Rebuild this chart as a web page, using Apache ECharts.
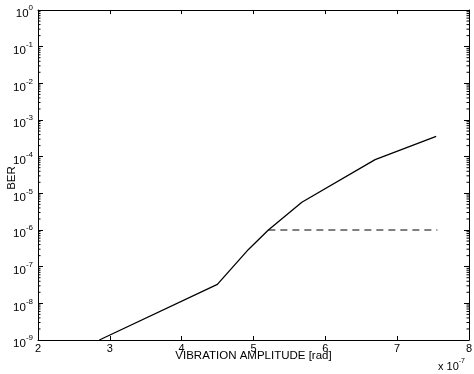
<!DOCTYPE html>
<html><head><meta charset="utf-8">
<script src="https://cdn.jsdelivr.net/npm/echarts@6/dist/echarts.min.js"></script>
<style>html,body{margin:0;padding:0;background:#fff}#c{width:474px;height:374px}</style>
</head><body><div id="c"></div>
<script>
// Data (x in units of 1e-7 rad)
const amplitude = [2.854, 4.497, 4.93, 5.207, 5.673, 6.693, 7.543];
const ber = [1e-9, 3.3e-8, 2.95e-7, 1e-6, 5.7e-6, 8.3e-5, 3.6e-4];
const limitX = [5.207, 7.56];
const limitBer = [1e-6, 1e-6];
const xTicks = [2, 3, 4, 5, 6, 7, 8];
const decades = [-9, -8, -7, -6, -5, -4, -3, -2, -1, 0];

const minorVals = [];
for (let d = -9; d < 0; d++) for (let k = 2; k <= 9; k++) minorVals.push(k * Math.pow(10, d));

const font = 'Liberation Sans, Arial, Helvetica, sans-serif';
const chart = echarts.init(document.getElementById('c'));
const axisLine = {show: true, lineStyle: {color: '#000', width: 1}};
chart.setOption({
  animation: false,
  grid: {left: 38, right: 5, top: 10, bottom: 34, containLabel: false, outerBoundsMode: 'none'},
  xAxis: [{
    type: 'value', min: 2, max: 8, interval: 1, position: 'bottom',
    axisLine: axisLine,
    axisTick: {show: true, inside: true, length: 4, lineStyle: {color: '#000'}},
    axisLabel: {color: '#000', fontSize: 11, fontFamily: font, margin: 3,
      formatter: v => xTicks.includes(v) ? String(v) : ''},
    splitLine: {show: false},
    name: 'VIBRATION AMPLITUDE [rad]', nameLocation: 'middle', nameGap: 10, nameMoveOverlap: false,
    nameTextStyle: {color: '#000', fontSize: 11.5, fontFamily: font, verticalAlign: 'top'}
  }, {
    type: 'value', min: 2, max: 8, interval: 1, position: 'top',
    axisLine: axisLine,
    axisTick: {show: true, inside: true, length: 4, lineStyle: {color: '#000'}},
    axisLabel: {show: false}, splitLine: {show: false}
  }],
  yAxis: [{
    type: 'log', logBase: 10, min: 1e-9, max: 1, position: 'left',
    axisLine: axisLine,
    axisTick: {show: true, inside: true, length: 5, lineStyle: {color: '#000'}},
    axisLabel: {color: '#000', fontFamily: font, margin: 5,
      formatter: v => { const e = Math.round(Math.log10(v)); return '{b|10}{e|' + e + '}'; },
      rich: {
        b: {fontSize: 11.5, fontFamily: font, color: '#000', verticalAlign: 'bottom', padding: [8, 0, 0, 0]},
        e: {fontSize: 8, fontFamily: font, color: '#000', verticalAlign: 'bottom', padding: [0, 0, 8, 0]}
      }
    },
    splitLine: {show: false}
  }, {
    type: 'log', logBase: 10, min: 1e-9, max: 1, position: 'right',
    axisLine: axisLine,
    axisTick: {show: true, inside: true, length: 5, lineStyle: {color: '#000'}},
    axisLabel: {show: false}, splitLine: {show: false}
  }],
  graphic: [{
    type: 'text', right: 9, bottom: 2,
    style: {text: '{a|x 10}{e|-7}', fill: '#000',
      rich: {a: {fontSize: 11, fontFamily: font, verticalAlign: 'bottom', padding: [6,0,0,0]},
             e: {fontSize: 7, fontFamily: font, verticalAlign: 'bottom', padding: [0,0,7,0]}}}
  }, {
    type: 'text', x: 12, y: 178, rotation: Math.PI / 2,
    style: {text: 'BER', fill: '#000', fontSize: 11.5, fontFamily: font, align: 'center', verticalAlign: 'middle'}
  }],
  series: [{
    type: 'line', xAxisIndex: 0, yAxisIndex: 0, symbol: 'none',
    data: amplitude.map((x, i) => [x, ber[i]]),
    lineStyle: {color: '#000', width: 1.3}
  }, {
    type: 'line', xAxisIndex: 0, yAxisIndex: 0, symbol: 'none',
    data: limitX.map((x, i) => [x, limitBer[i]]),
    lineStyle: {color: '#000', width: 1.1, type: [7, 5]}
  }, {
    type: 'custom', xAxisIndex: 0, yAxisIndex: 0, silent: true,
    data: minorVals.map(v => [2, v]),
    renderItem: (params, api) => {
      const v = api.value(1);
      const l = api.coord([2, v]);
      const r = api.coord([8, v]);
      return {type: 'group', children: [
        {type: 'line', shape: {x1: l[0], y1: l[1], x2: l[0] + 2.5, y2: l[1]}, style: {stroke: '#000', lineWidth: 1}},
        {type: 'line', shape: {x1: r[0], y1: r[1], x2: r[0] - 2.5, y2: r[1]}, style: {stroke: '#000', lineWidth: 1}}
      ]};
    }
  }]
});
</script></body></html>
